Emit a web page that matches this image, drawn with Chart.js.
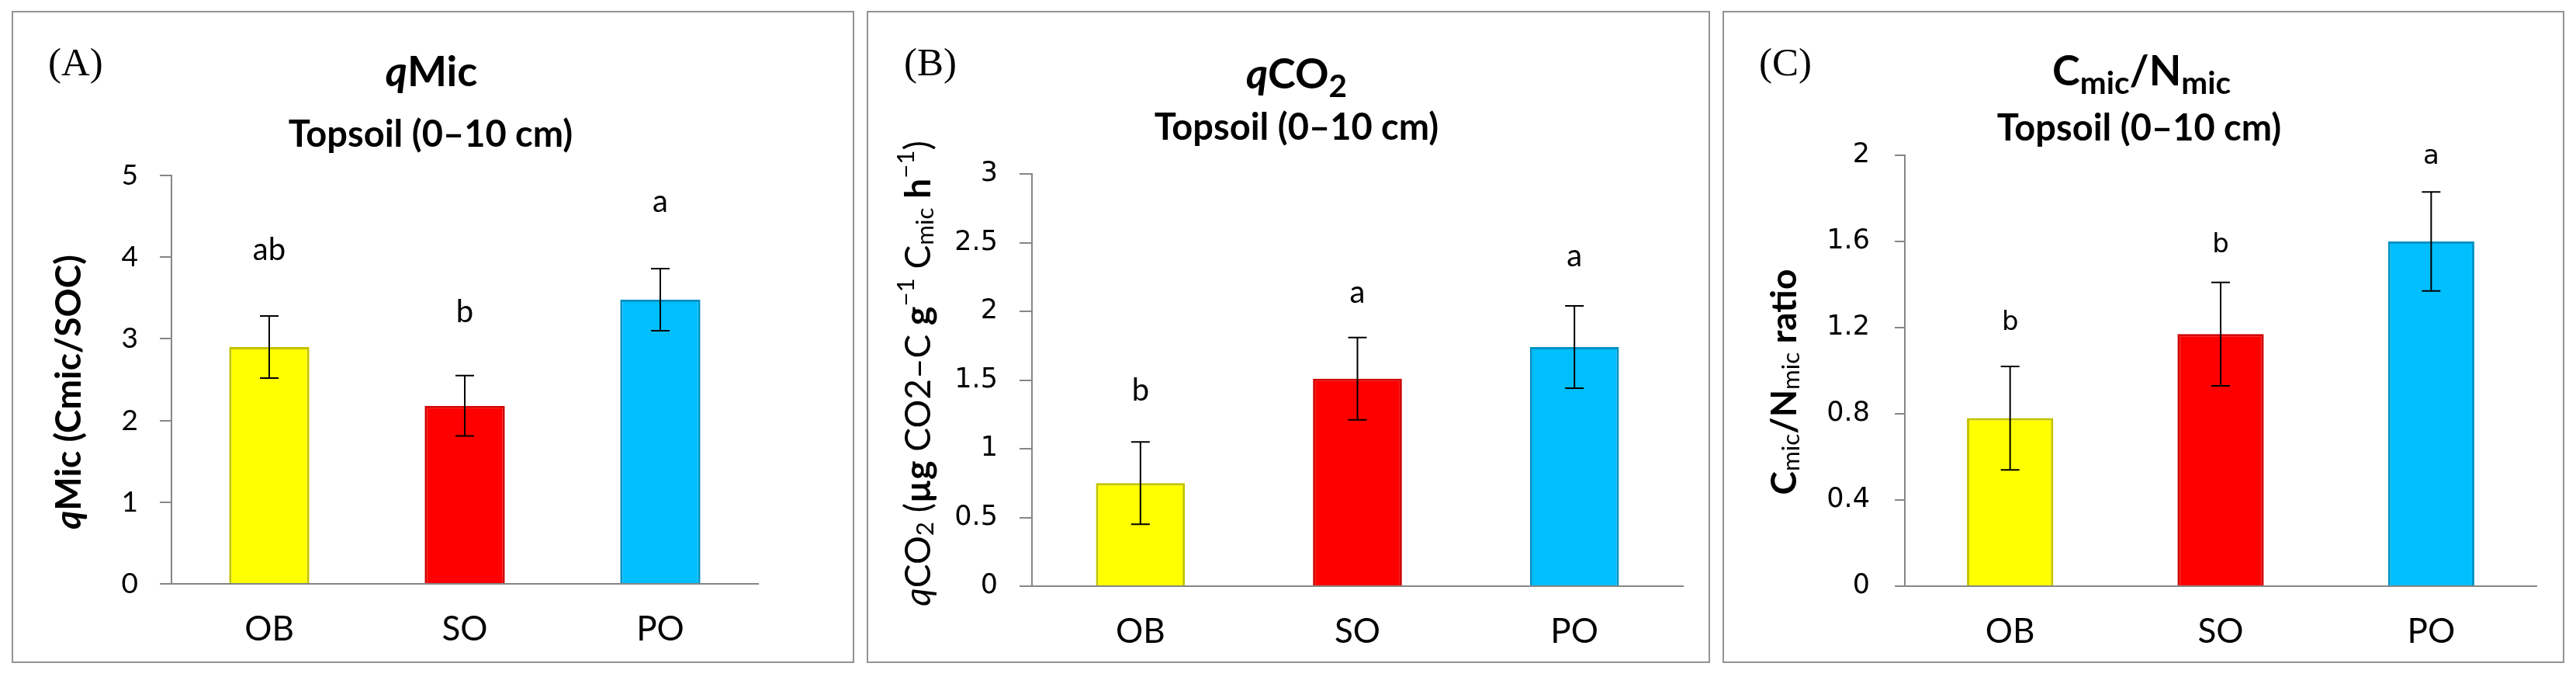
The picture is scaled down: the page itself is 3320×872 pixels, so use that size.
<!DOCTYPE html>
<html>
<head>
<meta charset="utf-8">
<script src="https://cdn.jsdelivr.net/npm/chart.js@4.4.1/dist/chart.umd.min.js"></script>
<style>
  html, body { margin: 0; background: #fff; }
  body { width: 3320px; height: 872px; position: relative; overflow: hidden; }
  .panel { position: absolute; top: 14px; height: 840px; border: 2px solid #939393; box-sizing: border-box; }
  .panel canvas { position: absolute; left: 0; top: 0; }
</style>
</head>
<body>
<div class="panel" style="left:15px;width:1086px"><canvas id="cA" width="1082" height="836"></canvas></div>
<div class="panel" style="left:1117px;width:1087px"><canvas id="cB" width="1083" height="836"></canvas></div>
<div class="panel" style="left:2220px;width:1085px"><canvas id="cC" width="1081" height="836"></canvas></div>
<script>
// sites
const groups = ['OB', 'SO', 'PO']
const barColors = ['#FFFF00', '#FF0000', '#00BFFF']
const barEdges = ['#C2C200', '#D00000', '#0092C4']

// (A) qMic
const qMicMean = [2.90, 2.18, 3.48]
const qMicErr = [0.38, 0.37, 0.38]
const qMicLetters = ['ab', 'b', 'a']
const qMicLetterAt = [3.96, 3.20, 4.55]

// (B) qCO2
const qCO2Mean = [0.75, 1.51, 1.74]
const qCO2Err = [0.30, 0.30, 0.30]
const qCO2Letters = ['b', 'a', 'a']
const qCO2LetterAt = [1.35, 2.06, 2.33]

// (C) Cmic/Nmic
const cnMean = [0.78, 1.17, 1.60]
const cnErr = [0.24, 0.24, 0.23]
const cnLetters = ['b', 'b', 'a']
const cnLetterAt = [1.19, 1.55, 1.96]

const axisGray = '#868686'

function fontOf(s, size, fam, bold) {
  let sz = (s.sub || s.sup) ? size * (s.k || 0.68) : size
  let b = s.b !== undefined ? s.b : bold
  return (s.i ? 'italic ' : '') + (b ? 'bold ' : '') + sz.toFixed(1) + 'px ' + fam
}

function drawRich(ctx, spec, x, y) {
  let total = 0
  let widths = spec.segs.map(s => {
    ctx.font = fontOf(s, spec.size, spec.family, spec.bold)
    let w = ctx.measureText(s.t).width
    total += w
    return w
  })
  let cx = spec.align === 'left' ? x : x - total / 2
  spec.segs.forEach((s, k) => {
    ctx.font = fontOf(s, spec.size, spec.family, spec.bold)
    let dy = s.sub ? spec.size * 0.2 : s.sup ? -spec.size * 0.36 : 0
    ctx.fillText(s.t, cx, y + dy)
    cx += widths[k]
  })
}

const panelText = {
  id: 'panelText',
  afterDraw(chart, args, o) {
    let ctx = chart.ctx
    ctx.save()
    ctx.fillStyle = '#000'
    ctx.textBaseline = 'alphabetic'
    ctx.textAlign = 'left'
    ctx.font = '51px "Liberation Serif"'
    ctx.fillText(o.tag, o.tagX, o.tagY)
    drawRich(ctx, { segs: o.title, size: 54, family: 'Lato', bold: true }, o.titleX, o.titleY)
    drawRich(ctx, { segs: [{ t: 'Topsoil (0–10 cm)' }], size: 47, family: 'Lato', bold: true }, o.subX, o.subY)
    ctx.translate(o.yTitleX, o.yTitleY)
    ctx.rotate(-Math.PI / 2)
    ctx.textBaseline = 'middle'
    drawRich(ctx, { segs: o.yTitle, size: 46, family: 'Lato', bold: o.yBold }, 0, 0)
    ctx.restore()
  }
}

const errorBars = {
  id: 'errorBars',
  afterDatasetsDraw(chart, args, o) {
    let ctx = chart.ctx
    let y = chart.scales.y
    let ds = chart.data.datasets[0]
    ctx.save()
    chart.getDatasetMeta(0).data.forEach((bar, i) => {
      let hi = y.getPixelForValue(ds.data[i] + ds.errors[i])
      let lo = y.getPixelForValue(ds.data[i] - ds.errors[i])
      ctx.strokeStyle = '#000'
      ctx.lineWidth = 2
      ctx.beginPath()
      ctx.moveTo(bar.x, hi); ctx.lineTo(bar.x, lo)
      ctx.moveTo(bar.x - 12, hi); ctx.lineTo(bar.x + 12, hi)
      ctx.moveTo(bar.x - 12, lo); ctx.lineTo(bar.x + 12, lo)
      ctx.stroke()
      ctx.fillStyle = '#000'
      ctx.font = o.font
      ctx.textAlign = 'center'
      ctx.textBaseline = 'alphabetic'
      ctx.fillText(ds.letters[i], bar.x, y.getPixelForValue(ds.letterAt[i]))
    })
    ctx.restore()
  }
}

function makeChart(id, mean, err, letters, letterAt, o) {
  return new Chart(document.getElementById(id), {
    type: 'bar',
    data: {
      labels: groups,
      datasets: [{
        data: mean,
        errors: err,
        letters: letters,
        letterAt: letterAt,
        backgroundColor: barColors,
        borderColor: barEdges,
        borderWidth: 3,
        barPercentage: 0.41,
        categoryPercentage: 1
      }]
    },
    options: {
      responsive: false,
      animation: false,
      layout: { padding: { left: 0, top: o.top, right: o.right, bottom: o.bottom } },
      plugins: {
        legend: { display: false },
        tooltip: { enabled: false },
        panelText: o.text,
        errorBars: { font: o.letterFont }
      },
      scales: {
        x: {
          grid: { display: false, drawTicks: false },
          border: { color: axisGray, width: 2 },
          ticks: { font: { family: 'Lato', size: 44 }, color: '#000', padding: 32 },
          afterFit: s => { s.height = 96 }
        },
        y: {
          min: 0,
          max: o.max,
          ticks: {
            stepSize: o.step,
            font: o.tickFont,
            color: '#000',
            padding: o.tickPad,
            callback: v => +v.toFixed(1)
          },
          grid: { drawOnChartArea: false, drawTicks: true, tickLength: o.tickLen, color: axisGray, lineWidth: 2 },
          border: { color: axisGray, width: 2 },
          afterFit: s => { s.width = o.axisW }
        }
      }
    },
    plugins: [errorBars, panelText]
  })
}

makeChart('cA', qMicMean, qMicErr, qMicLetters, qMicLetterAt, {
  max: 5, step: 1, top: 210, right: 122, bottom: 4, axisW: 204,
  tickLen: 15, tickPad: 28, tickFont: { family: 'Lato', size: 37 },
  letterFont: '40px Lato',
  text: {
    tag: '(A)', tagX: 45, tagY: 81,
    title: [{ t: 'q', i: true }, { t: 'Mic' }], titleX: 539, titleY: 95,
    subX: 538, subY: 173,
    yTitle: [{ t: 'q', i: true }, { t: 'Mic (Cmic/SOC)' }], yBold: true, yTitleX: 72, yTitleY: 489
  }
})

makeChart('cB', qCO2Mean, qCO2Err, qCO2Letters, qCO2LetterAt, {
  max: 3, step: 0.5, top: 208, right: 33, bottom: 1, axisW: 211,
  tickLen: 16, tickPad: 28, tickFont: { family: 'DejaVu Sans', size: 35 },
  letterFont: '40px Lato',
  text: {
    tag: '(B)', tagX: 46, tagY: 81,
    title: [{ t: 'q', i: true }, { t: 'CO' }, { t: '2', sub: true, k: 0.75 }], titleX: 552, titleY: 98,
    subX: 552, subY: 164,
    yTitle: [
      { t: 'q', i: true }, { t: 'CO' }, { t: '2', sub: true }, { t: ' (' }, { t: 'µg', b: true },
      { t: ' CO2–C ' }, { t: 'g', b: true }, { t: '−1', sup: true }, { t: ' C' }, { t: 'mic', sub: true },
      { t: ' ' }, { t: 'h', b: true }, { t: '−1', sup: true }, { t: ')' }
    ],
    yBold: false, yTitleX: 65, yTitleY: 465
  }
})

makeChart('cC', cnMean, cnErr, cnLetters, cnLetterAt, {
  max: 2, step: 0.4, top: 184, right: 34, bottom: 1, axisW: 233,
  tickLen: 13, tickPad: 32, tickFont: { family: 'DejaVu Sans', size: 35 },
  letterFont: '34px "DejaVu Sans"',
  text: {
    tag: '(C)', tagX: 45, tagY: 81,
    title: [{ t: 'C' }, { t: 'mic', sub: true, k: 0.75 }, { t: '/N' }, { t: 'mic', sub: true, k: 0.75 }], titleX: 538, titleY: 94,
    subX: 535, subY: 165,
    yTitle: [{ t: 'C' }, { t: 'mic', sub: true, b: false }, { t: '/N' }, { t: 'mic', sub: true, b: false }, { t: ' ratio' }],
    yBold: true, yTitleX: 78, yTitleY: 476
  }
})
</script>
</body>
</html>
